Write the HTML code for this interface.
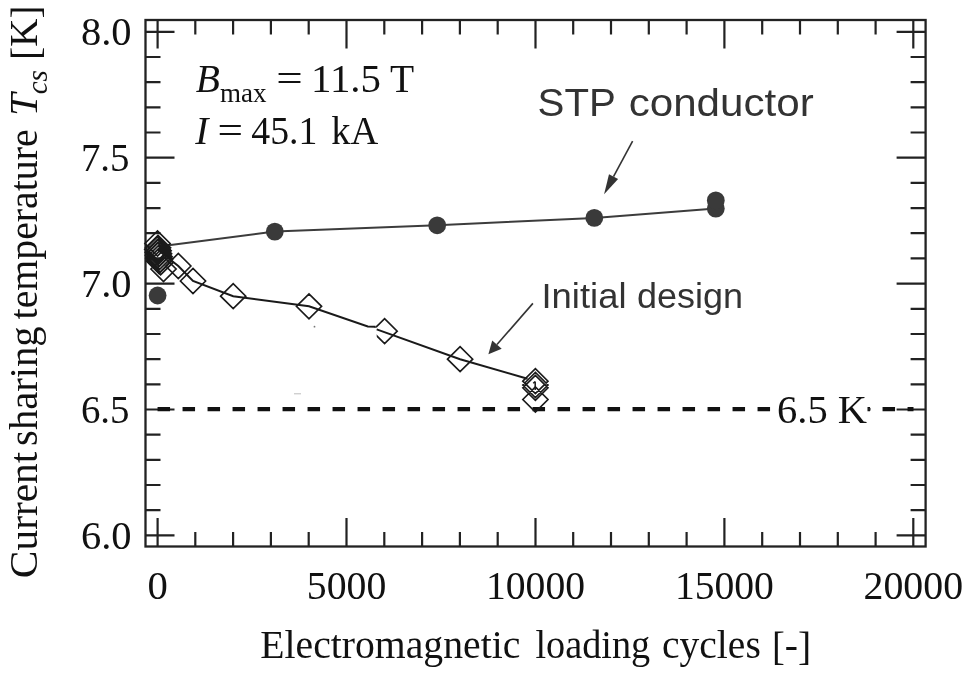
<!DOCTYPE html><html><head><meta charset="utf-8"><title>Tcs vs electromagnetic loading cycles</title>
<style>html,body{margin:0;padding:0;background:#fff}svg{display:block;filter:blur(0.45px)}.se{font-family:"Liberation Serif","DejaVu Serif",serif;fill:#111}.sa{font-family:"Liberation Sans","DejaVu Sans",sans-serif;fill:#333}</style></head><body>
<svg width="969" height="674" viewBox="0 0 969 674">
<rect width="969" height="674" fill="#fff"/>
<rect x="145.5" y="20.0" width="780.1" height="526.5" fill="none" stroke="#222" stroke-width="2.3"/>
<path d="M157.6 546.55v-28.5M157.6 20.0v28.5M195.3 546.55v-14.5M195.3 20.0v14.5M233.1 546.55v-14.5M233.1 20.0v14.5M270.9 546.55v-14.5M270.9 20.0v14.5M308.7 546.55v-14.5M308.7 20.0v14.5M346.5 546.55v-28.5M346.5 20.0v28.5M384.3 546.55v-14.5M384.3 20.0v14.5M422.1 546.55v-14.5M422.1 20.0v14.5M459.9 546.55v-14.5M459.9 20.0v14.5M497.7 546.55v-14.5M497.7 20.0v14.5M535.5 546.55v-28.5M535.5 20.0v28.5M573.2 546.55v-14.5M573.2 20.0v14.5M611.0 546.55v-14.5M611.0 20.0v14.5M648.8 546.55v-14.5M648.8 20.0v14.5M686.6 546.55v-14.5M686.6 20.0v14.5M724.4 546.55v-28.5M724.4 20.0v28.5M762.2 546.55v-14.5M762.2 20.0v14.5M800.0 546.55v-14.5M800.0 20.0v14.5M837.8 546.55v-14.5M837.8 20.0v14.5M875.6 546.55v-14.5M875.6 20.0v14.5M913.3 546.55v-28.5M913.3 20.0v28.5M145.5 535.4h29M925.6 535.4h-29M145.5 510.2h15M925.6 510.2h-15M145.5 485.0h15M925.6 485.0h-15M145.5 459.9h15M925.6 459.9h-15M145.5 434.7h15M925.6 434.7h-15M145.5 409.5h29M925.6 409.5h-29M145.5 384.3h15M925.6 384.3h-15M145.5 359.1h15M925.6 359.1h-15M145.5 334.0h15M925.6 334.0h-15M145.5 308.8h15M925.6 308.8h-15M145.5 283.6h29M925.6 283.6h-29M145.5 258.4h15M925.6 258.4h-15M145.5 233.2h15M925.6 233.2h-15M145.5 208.1h15M925.6 208.1h-15M145.5 182.9h15M925.6 182.9h-15M145.5 157.7h29M925.6 157.7h-29M145.5 132.5h15M925.6 132.5h-15M145.5 107.3h15M925.6 107.3h-15M145.5 82.2h15M925.6 82.2h-15M145.5 57.0h15M925.6 57.0h-15M145.5 31.8h29M925.6 31.8h-29" stroke="#222" stroke-width="2.2" fill="none"/>
<line x1="157.55" y1="409.1" x2="913.5" y2="409.1" stroke="#111" stroke-width="4.3" stroke-dasharray="12.5 12.5"/>
<rect x="775" y="395" width="92.5" height="32" fill="#fff"/>
<rect x="868" y="408" width="2.5" height="2.5" fill="#222"/>
<text class="se" x="777" y="423.4" font-size="40.5">6.5 K</text>
<polyline points="159,246.5 274.8,231.6 437.2,225.3 594.3,217.9 715.8,208.6" fill="none" stroke="#3c3c3c" stroke-width="2"/>
<circle cx="274.8" cy="231.6" r="8.9" fill="#3a3a3a"/>
<circle cx="437.2" cy="225.3" r="8.9" fill="#3a3a3a"/>
<circle cx="594.3" cy="217.9" r="8.9" fill="#3a3a3a"/>
<circle cx="715.8" cy="208.6" r="8.9" fill="#3a3a3a"/>
<circle cx="715.8" cy="200.4" r="8.9" fill="#3a3a3a"/>
<circle cx="157.6" cy="295.5" r="8.9" fill="#3a3a3a"/>
<path d="M144.9 243.5L157.5 231.0L170.1 243.5L157.5 256.0ZM145.4 247.8L158 235.3L170.6 247.8L158 260.3ZM144.7 249.3L157.3 236.8L169.9 249.3L157.3 261.8ZM146.0 250.8L158.6 238.3L171.2 250.8L158.6 263.3ZM145.2 252.3L157.8 239.8L170.4 252.3L157.8 264.8ZM146.4 253.8L159 241.3L171.6 253.8L159 266.3ZM145.4 255.3L158 242.8L170.6 255.3L158 267.8ZM147.0 256.8L159.6 244.3L172.2 256.8L159.6 269.3ZM145.8 258.2L158.4 245.7L171.0 258.2L158.4 270.7ZM147.4 259.6L160 247.10000000000002L172.6 259.6L160 272.1ZM146.4 261L159 248.5L171.6 261L159 273.5ZM148.0 262.4L160.6 249.89999999999998L173.2 262.4L160.6 274.9ZM150.9 269L163.5 256.5L176.1 269L163.5 281.5ZM165.7 266L178.3 253.5L190.9 266L178.3 278.5ZM180.4 281L193 268.5L205.6 281L193 293.5ZM220.6 296.2L233.2 283.7L245.8 296.2L233.2 308.7ZM296.4 306.3L309 293.8L321.6 306.3L309 318.8ZM372.0 331.2L384.6 318.7L397.2 331.2L384.6 343.7ZM447.5 359.2L460.1 346.7L472.7 359.2L460.1 371.7ZM522.8 381.2L535.4 368.7L548.0 381.2L535.4 393.7ZM522.8 385L535.4 372.5L548.0 385L535.4 397.5ZM522.8 387.8L535.4 375.3L548.0 387.8L535.4 400.3ZM522.8 399.5L535.4 387.0L548.0 399.5L535.4 412.0Z" fill="none" stroke="#1a1a1a" stroke-width="1.65"/>
<rect x="369" y="327.6" width="7.7" height="12.6" fill="#fff"/>
<polyline points="158,250 178.3,266 193,281 233.2,296.2 309,306.3 367.8,326.4 375.5,326.8" fill="none" stroke="#1a1a1a" stroke-width="2"/>
<polyline points="376.7,329.4 460.1,359.2 527.5,378.8" fill="none" stroke="#1a1a1a" stroke-width="2"/>
<path d="M535.2 381.5v8.5M533.2 383.2l2-1.7" stroke="#1a1a1a" stroke-width="1.5" fill="none"/>
<path d="M294 393.8h7" stroke="#bdbdbd" stroke-width="1"/>
<circle cx="314.5" cy="326.7" r="0.9" fill="#777"/>
<line x1="632.6" y1="141.1" x2="613.5" y2="176.7" stroke="#333" stroke-width="1.6"/><polygon points="604.1,194.3 609.0,174.2 618.1,179.1" fill="#333"/>
<line x1="532.9" y1="303.4" x2="497.0" y2="344.5" stroke="#333" stroke-width="1.6"/><polygon points="488.4,354.3 492.2,340.4 501.7,348.7" fill="#333"/>
<text class="sa" font-size="39.7" y="116.2"><tspan x="537.6" textLength="77.5" lengthAdjust="spacingAndGlyphs">STP</tspan><tspan> </tspan><tspan x="628.7" textLength="185" lengthAdjust="spacingAndGlyphs">conductor</tspan></text>
<text class="sa" font-size="34.4" y="308"><tspan x="541.5" textLength="85" lengthAdjust="spacingAndGlyphs">Initial</tspan><tspan> </tspan><tspan x="637" textLength="106" lengthAdjust="spacingAndGlyphs">design</tspan></text>
<text class="se" y="91.6" font-size="39.5"><tspan x="195.8" font-style="italic">B</tspan><tspan font-size="27" dy="10">max</tspan><tspan dy="-10" x="267"> </tspan><tspan x="276.2" textLength="26.5" lengthAdjust="spacingAndGlyphs">=</tspan><tspan> </tspan><tspan x="311" textLength="70" lengthAdjust="spacingAndGlyphs">11.5</tspan><tspan> </tspan><tspan x="390">T</tspan></text>
<text class="se" y="144.1" font-size="39.5"><tspan x="195.2" font-style="italic">I</tspan><tspan> </tspan><tspan x="217.4" textLength="25.5" lengthAdjust="spacingAndGlyphs">=</tspan><tspan> </tspan><tspan x="251.3" textLength="66" lengthAdjust="spacingAndGlyphs">45.1</tspan><tspan> </tspan><tspan x="331.2" textLength="47" lengthAdjust="spacingAndGlyphs">kA</tspan></text>
<text class="se" x="80.9" y="45.3" font-size="40.5">8.0</text>
<text class="se" x="80.9" y="171.2" font-size="40.5" textLength="48.6" lengthAdjust="spacingAndGlyphs">7.5</text>
<text class="se" x="80.9" y="297.1" font-size="40.5">7.0</text>
<text class="se" x="80.9" y="423.0" font-size="40.5" textLength="48.6" lengthAdjust="spacingAndGlyphs">6.5</text>
<text class="se" x="80.9" y="548.9" font-size="40.5">6.0</text>
<text class="se" x="157.6" y="599.3" font-size="40.7" text-anchor="middle">0</text>
<text class="se" x="346.5" y="599.3" font-size="40.7" text-anchor="middle" textLength="79.5" lengthAdjust="spacingAndGlyphs">5000</text>
<text class="se" x="535.5" y="599.3" font-size="40.7" text-anchor="middle" textLength="99" lengthAdjust="spacingAndGlyphs">10000</text>
<text class="se" x="724.4" y="599.3" font-size="40.7" text-anchor="middle" textLength="99" lengthAdjust="spacingAndGlyphs">15000</text>
<text class="se" x="913.3" y="599.3" font-size="40.7" text-anchor="middle" textLength="99.5" lengthAdjust="spacingAndGlyphs">20000</text>
<text class="se" y="658.3" font-size="40.8"><tspan x="260.3" textLength="260" lengthAdjust="spacingAndGlyphs">Electromagnetic</tspan><tspan> </tspan><tspan x="535.5" textLength="114.6" lengthAdjust="spacingAndGlyphs">loading</tspan><tspan> </tspan><tspan x="662" textLength="98.8" lengthAdjust="spacingAndGlyphs">cycles</tspan><tspan> </tspan><tspan x="772" dy="1.2" textLength="12.8" lengthAdjust="spacingAndGlyphs">[</tspan><tspan dy="-1.2" textLength="13.2" lengthAdjust="spacingAndGlyphs">-</tspan><tspan dy="1.2" textLength="13.2" lengthAdjust="spacingAndGlyphs">]</tspan></text>
<text class="se" transform="translate(36.5,0) rotate(-90)" font-size="40.8" y="0"><tspan x="-578.2" textLength="126.5" lengthAdjust="spacingAndGlyphs">Current</tspan><tspan> </tspan><tspan x="-445.9" textLength="119.5" lengthAdjust="spacingAndGlyphs">sharing</tspan><tspan> </tspan><tspan x="-319.4" textLength="190" lengthAdjust="spacingAndGlyphs">temperature</tspan><tspan> </tspan><tspan x="-116" font-style="italic">T</tspan><tspan font-size="29" font-style="italic" dy="10" dx="-1">cs</tspan><tspan dy="-10"> </tspan><tspan x="-59.8" dy="2" textLength="12.8" lengthAdjust="spacingAndGlyphs">[</tspan><tspan dy="-2" textLength="28.4" lengthAdjust="spacingAndGlyphs">K</tspan><tspan dy="2" textLength="12.8" lengthAdjust="spacingAndGlyphs">]</tspan></text>
</svg></body></html>
